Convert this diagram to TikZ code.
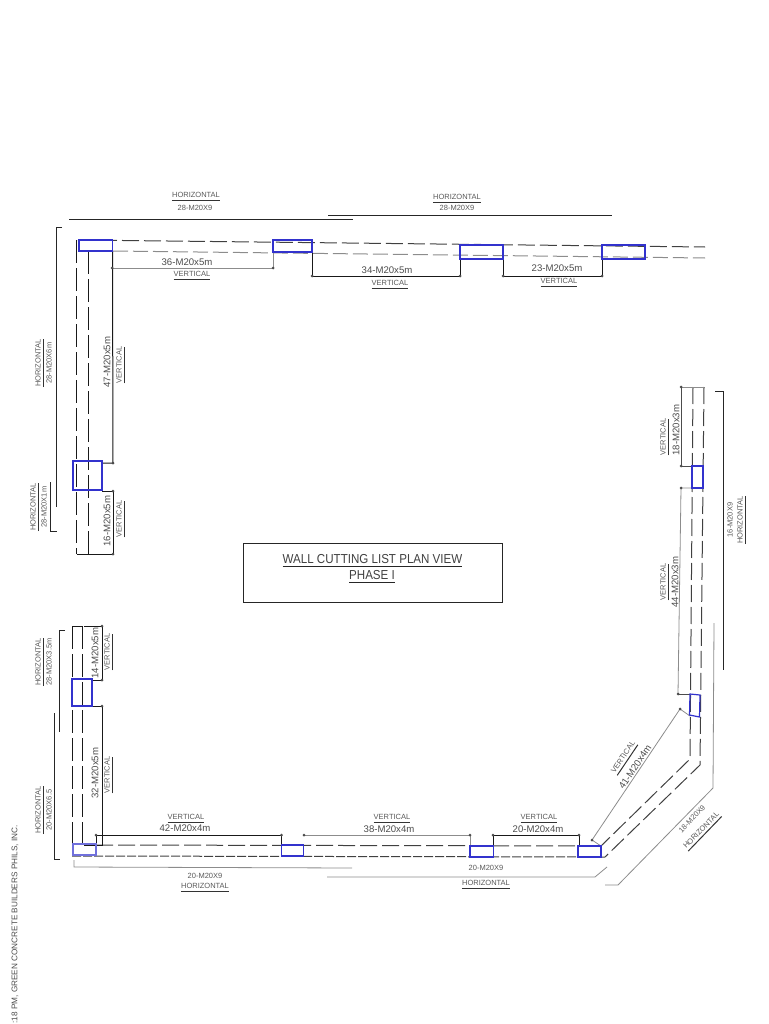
\documentclass[tikz,border=0pt]{standalone}
\usepackage{fontspec}
\setmainfont{Liberation Sans}
\definecolor{openblue}{RGB}{50,50,205}
\begin{document}
\begin{tikzpicture}[x=1pt,y=-1pt]
        \tikzstyle{wallline}=[line width=1pt, black!75, dash pattern=on 17pt off 5pt]
        \tikzstyle{wallpale}=[line width=1pt, black!45, dash pattern=on 15pt off 5pt]
        \tikzstyle{wallside}=[line width=1pt, black!90, dash pattern=on 23pt off 5pt]
        \tikzstyle{opening}=[line width=1.2pt, draw=openblue]
        \tikzstyle{dimline}=[line width=1pt, black!90]
        \tikzstyle{dimpale}=[line width=.8pt, black!45]
        \tikzstyle{bracket}=[line width=1pt, black!85]
        \tikzstyle{smalltext}=[inner xsep=0pt, inner ysep=2.6pt, text=black!65, font=\fontsize{7.5}{8}\selectfont]
        \tikzstyle{cuttext}=[inner sep=0pt, text=black!70, font=\fontsize{9.6}{11}\selectfont]
        \tikzstyle{titletext}=[inner xsep=0pt, inner ysep=2.6pt, text=black!75, font=\fontsize{13}{14}\selectfont, xscale=.89]
        \useasboundingbox (0,0) rectangle (768,1024);
        % walls
        \draw[wallline] (78,240) -- (705,247);
        \draw[wallpale] (113,251) -- (705,258);
        \draw[wallside] (76.5,240) -- (76.5,554);
        \draw[wallside] (88,251) -- (88,554);
        \draw[wallside] (72,626) -- (72,855);
        \draw[wallside] (82,626) -- (82,844);
        \draw[wallline] (96,845) -- (601,846);
        \draw[wallline, dash pattern=on 9pt off 2pt] (72,856) -- (605,857);
        \draw[wallline] (693,387) -- (690,759) -- (601,846);
        \draw[wallline] (704,387) -- (700,765) -- (605,857);
        \draw[dimline] (76.5,554) -- (113,554);
        \draw[dimline] (72,626) -- (82,626);
        % dimension lines
        \draw[dimpale] (273,252) -- (273,268) -- (112,268);
        \draw[dimline] (112.5,251) -- (113,463) -- (102,463);
        \draw[dimline] (102,491) -- (113,491) -- (113,554);
        \draw[dimline] (312,252) -- (312,276) -- (460,276) -- (460,259);
        \draw[dimline] (503,259) -- (503,276) -- (602,276) -- (602,259);
        \draw[dimline] (84,626) -- (102,626) -- (102,680) -- (92,680);
        \draw[dimline] (92,706) -- (102,706) -- (102,845) -- (84,845);
        \draw[dimline] (96,844) -- (96,835) -- (281.5,835) -- (281.5,845);
        \draw[dimpale] (304,835) -- (470,835) -- (470,846);
        \draw[dimline] (493,846) -- (493,835) -- (579,835) -- (579,846);
        \draw[dimpale] (601,846) -- (592,840) -- (680,709) -- (690,716);
        \draw[dimpale] (704,387) -- (681,387);
        \draw[dimline, black!70] (681,387) -- (681,466) -- (692,466);
        \draw[dimpale] (692,488) -- (681,488) -- (678,694);
        \draw[dimline, black!70] (678,694) -- (690,694);
        \foreach \px/\py in {273/268,112/268,312/276,460/276,503/276,602/276,113/463,113/491,113/554,102/626,102/680,102/706,96/835,281.5/835,304/835,470/835,493/835,579/835,592/840,680/709,681/387,681/466,681/488,678/694}
          \fill[black!70] (\px,\py) circle (1.5pt);
        % openings
        \draw[opening] (79,240) rectangle (112.5,251);
        \draw[opening] (273,240) rectangle (312,252);
        \draw[opening] (460,245) rectangle (503,259);
        \draw[opening] (602,245) rectangle (645,259);
        \draw[opening] (73,461) rectangle (102,490);
        \draw[opening] (72,679) rectangle (92,706);
        \draw[opening, draw=openblue!70] (73,844) rectangle (96,855);
        \draw[opening] (281.5,845) rectangle (303.5,856);
        \draw[opening] (470,846) rectangle (493.5,857);
        \draw[opening] (578,846) rectangle (601,857);
        \draw[opening] (692,466) rectangle (703,488);
        \draw[opening] (690,694) -- (700,695) -- (699.5,717) -- (689.5,715) -- cycle;
        % brackets and quantity lines
        \draw[bracket] (69,220) -- (353,220);
        \draw[bracket] (328,216) -- (612,216);
        \draw[bracket] (62,228) -- (56,228) -- (56,507);
        \draw[bracket] (50,482) -- (50,531) -- (57,531);
        \draw[bracket] (65,630) -- (59,630) -- (59,732);
        \draw[bracket] (54,713) -- (54,859) -- (60,859);
        \draw[bracket] (715,391) -- (723,391) -- (723,670);
        \draw[dimpale] (74,860) -- (74,867) -- (352,868);
        \draw[dimpale] (327,877) -- (595,877) -- (607,867);
        \draw[dimpale] (605,885) -- (618,885) -- (713,788) -- (714,623);
        % labels
        \node[smalltext] (horizA) at (196,195) {HORIZONTAL};
        \node[smalltext] (qtyA) at (195,208) {28-M20X9};
        \node[smalltext] (horizB) at (457,197) {HORIZONTAL};
        \node[smalltext] (qtyB) at (457,208) {28-M20X9};
        \node[smalltext, rotate=90] (horizC) at (38,363) {HORIZONTAL};
        \node[smalltext, rotate=90] (qtyC) at (49,363) {28-M20X6m};
        \node[smalltext, rotate=90] (horizD) at (33,507) {HORIZONTAL};
        \node[smalltext, rotate=90] (qtyD) at (44,507) {28-M20X1m};
        \node[smalltext, rotate=90] (horizE) at (38,662) {HORIZONTAL};
        \node[smalltext, rotate=90] (qtyE) at (49,662) {28-M20X3.5m};
        \node[smalltext, rotate=90] (horizF) at (38,810) {HORIZONTAL};
        \node[smalltext, rotate=90] (qtyF) at (49,810) {20-M20X6.5};
        \node[smalltext] (qtyG) at (205,876) {20-M20X9};
        \node[smalltext] (horizG) at (205,886) {HORIZONTAL};
        \node[smalltext] (qtyH) at (486,868) {20-M20X9};
        \node[smalltext] (horizH) at (486,883) {HORIZONTAL};
        \node[smalltext, rotate=46] (qtyI) at (692,819) {18-M20X9};
        \node[smalltext, rotate=46] (horizI) at (701,830) {HORIZONTAL};
        \node[smalltext, rotate=90] (qtyJ) at (730,520) {16-M20X9};
        \node[smalltext, rotate=90] (horizJ) at (740,520) {HORIZONTAL};
        \node[smalltext] (vertA) at (192,274) {VERTICAL};
        \node[smalltext] (vertB) at (390,283) {VERTICAL};
        \node[smalltext] (vertC) at (559,281) {VERTICAL};
        \node[smalltext, rotate=90] (vertD) at (119,365) {VERTICAL};
        \node[smalltext, rotate=90] (vertE) at (119,519) {VERTICAL};
        \node[smalltext, rotate=90] (vertF) at (107,652) {VERTICAL};
        \node[smalltext, rotate=90] (vertG) at (107,775) {VERTICAL};
        \node[smalltext] (vertH) at (186,817) {VERTICAL};
        \node[smalltext] (vertI) at (392,817) {VERTICAL};
        \node[smalltext] (vertJ) at (539,817) {VERTICAL};
        \node[smalltext, rotate=56] (vertK) at (623,757) {VERTICAL};
        \node[smalltext, rotate=90] (vertL) at (663,437) {VERTICAL};
        \node[smalltext, rotate=90] (vertM) at (663,582) {VERTICAL};
        \node[cuttext] (cutA) at (187,262) {36-M20x5m};
        \node[cuttext] (cutB) at (387,270) {34-M20x5m};
        \node[cuttext] (cutC) at (557,268) {23-M20x5m};
        \node[cuttext, rotate=90] (cutD) at (107,362) {47-M20x5m};
        \node[cuttext, rotate=90] (cutE) at (107,521) {16-M20x5m};
        \node[cuttext, rotate=90] (cutF) at (95,653) {14-M20x5m};
        \node[cuttext, rotate=90] (cutG) at (95,773) {32-M20x5m};
        \node[cuttext] (cutH) at (185,828) {42-M20x4m};
        \node[cuttext] (cutI) at (389,829) {38-M20x4m};
        \node[cuttext] (cutJ) at (538,829) {20-M20x4m};
        \node[cuttext, rotate=56] (cutK) at (635,767) {41-M20x4m};
        \node[cuttext, rotate=90] (cutL) at (676,430) {18-M20x3m};
        \node[cuttext, rotate=90] (cutM) at (675,582) {44-M20x3m};
        \foreach \lab in {horizA,horizB,horizC,horizD,horizE,horizF,horizG,horizH,horizI,horizJ,vertA,vertB,vertC,vertD,vertE,vertF,vertG,vertH,vertI,vertJ,vertK,vertL,vertM}
          \draw[line width=1pt, black!80] (\lab.south west) -- (\lab.south east);
        % title
        \node[draw=black!85, line width=1pt, minimum width=259pt, minimum height=59pt] (titlebox) at (372.5,572.5) {};
        \node[titletext] (titleA) at (372.5,559) {WALL CUTTING LIST PLAN VIEW};
        \node[titletext] (titleB) at (372,575) {PHASE I};
        \draw[line width=1pt, black!85] (titleA.south west) -- (titleA.south east);
        \draw[line width=1pt, black!85] (titleB.south west) -- (titleB.south east);
        \node[smalltext, rotate=90, anchor=east, inner ysep=0pt, text=black!70, font=\fontsize{8.2}{9}\selectfont] (footer) at (15,825) {:18 PM, GREEN CONCRETE BUILDERS PHILS, INC.};
      \end{tikzpicture}
\end{document}
